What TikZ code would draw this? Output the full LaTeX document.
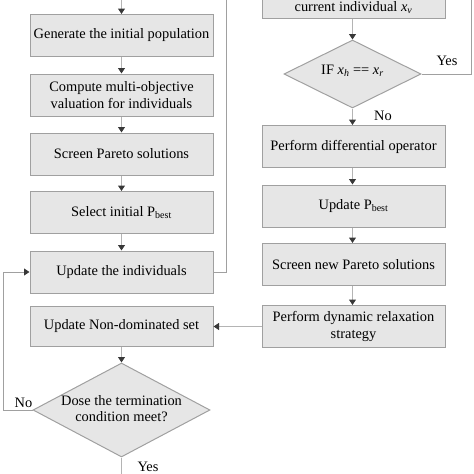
\documentclass[tikz,border=0pt]{standalone}
\usepackage{fontspec}
\setmainfont{Liberation Serif}
\usetikzlibrary{shapes.geometric,arrows.meta}
\definecolor{boxfill}{HTML}{E6E6E6}
\definecolor{boxline}{HTML}{A0A0A0}
\definecolor{connc}{HTML}{B4B4B4}
\definecolor{tipc}{HTML}{383838}
\newcommand{\bestsub}{\textsubscript{best}}
\newcommand{\xsub}[1]{\textit{x}\textsubscript{\textit{#1}}}
\begin{document}
\begin{tikzpicture}[x=1pt,y=-1pt,
  every node/.style={font=\fontsize{14.4}{16.5}\selectfont},
  proc/.style={draw=boxline, fill=boxfill, line width=1pt, minimum width=183pt, minimum height=42pt, align=center, inner sep=2pt},
  dec/.style={diamond, draw=boxline, fill=boxfill, line width=1pt, inner sep=0pt},
  connline/.style={draw=connc, line width=1pt},
  arr/.style={connline, -{Triangle[length=5.5pt,width=7pt,color=tipc]}},
  lbl/.style={inner sep=0pt}
]
\useasboundingbox (0,0) rectangle (474,474);
% left column
\node[proc] (gen) at (121.5,35.5) {Generate the initial population};
\node[proc] (comp) at (121.5,95) {Compute multi-objective\\valuation for individuals};
\node[proc] (screen) at (121.5,154) {Screen Pareto solutions};
\node[proc] (sel) at (121.5,212.5) {Select initial P\bestsub};
\node[proc] (upd) at (121.5,272) {Update the individuals};
\node[proc, minimum height=40pt] (nd) at (121.5,326.5) {Update Non-dominated set};
\node[dec, minimum width=177pt, minimum height=94pt] (term) at (121.5,410)
  {\smash{\makebox[0pt]{\raisebox{-0.25em}{\begin{tabular}{@{}c@{}}Dose the termination\\condition meet?\end{tabular}}}}};
% right column
\node[proc, anchor=south, text height=40pt, text depth=4pt, inner ysep=3pt] (cur) at (353.5,19) {current individual \xsub{v}};
\node[dec, minimum width=137pt, minimum height=68pt] (ifn) at (352.5,74)
  {\smash{\makebox[0pt]{IF \xsub{h} == \xsub{r}}}};
\node[proc] (diff) at (353.5,146.5) {Perform differential operator};
\node[proc] (updp) at (353.5,206) {Update P\bestsub};
\node[proc] (scrn) at (353.5,264.5) {Screen new Pareto solutions};
\node[proc] (dyn) at (353.5,326.5) {Perform dynamic relaxation\\strategy};
% labels
\node[lbl] (yes1) at (447,61) {Yes};
\node[lbl] (no1) at (383,116) {No};
\node[lbl] (no2) at (23.5,403) {No};
\node[lbl] (yes2) at (148,467) {Yes};
% free ends
\coordinate (topin) at (121.5,0);
\coordinate (topup) at (226,0);
\coordinate (topyes) at (471,0);
\coordinate (botout) at (121.5,474);
% connectors
\draw[arr] (topin) -- (gen);
\draw[arr] (gen) -- (comp);
\draw[arr] (comp) -- (screen);
\draw[arr] (screen) -- (sel);
\draw[arr] (sel) -- (upd);
\draw[connline, draw=boxline] (upd.east) -| (topup);
\draw[arr] (nd) -- (term);
\draw[connline] (term.south) -- (botout);
\draw[arr, draw=boxline] (term.west) -- ++(-29,0) |- (upd.west);
\draw[arr] (cur.south -| ifn.north) -- (ifn.north);
\draw[connline, draw=boxline] (ifn.east) -| (topyes);
\draw[arr] (ifn.south) -- (ifn.south |- diff.north);
\draw[arr] (diff.south -| ifn.south) -- (ifn.south |- updp.north);
\draw[arr] (updp.south -| ifn.south) -- (ifn.south |- scrn.north);
\draw[arr] (scrn.south -| ifn.south) -- (ifn.south |- dyn.north);
\draw[arr] (dyn.west) -- (nd.east);
\end{tikzpicture}
\end{document}
